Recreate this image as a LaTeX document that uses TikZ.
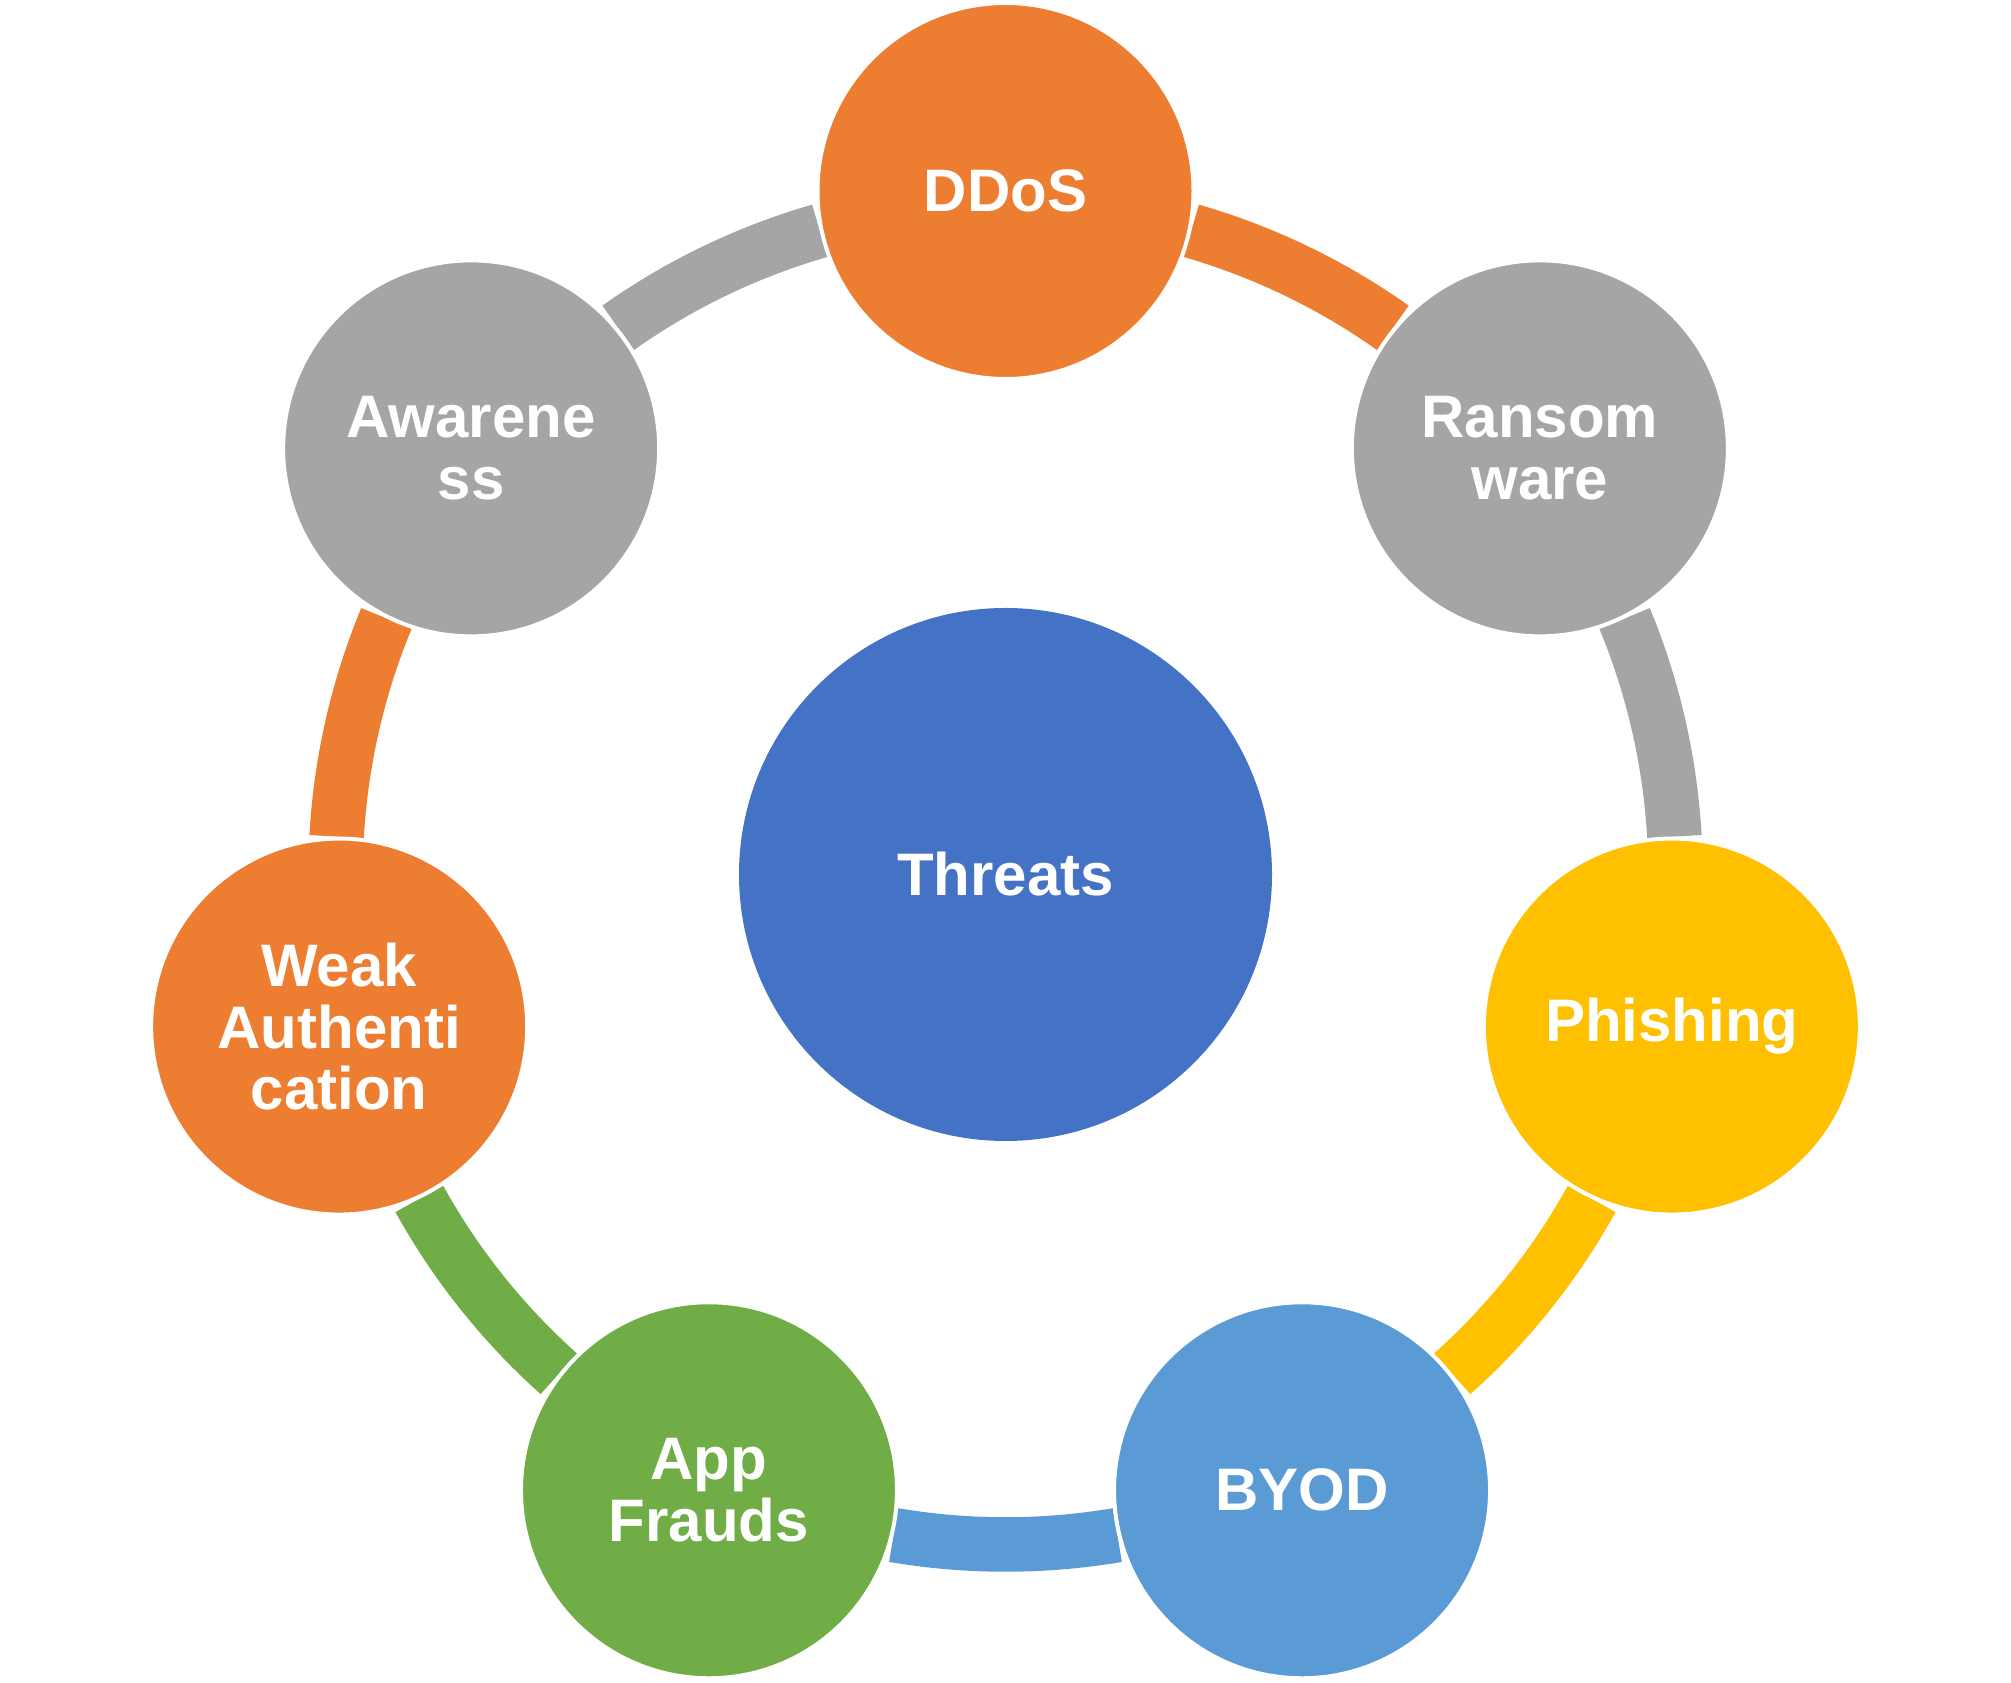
\documentclass[tikz,border=0pt]{standalone}
\usepackage{fontspec}
\setmainfont{Liberation Sans}
\definecolor{corange}{HTML}{ED7D31}
\definecolor{cgray}{HTML}{A5A5A5}
\definecolor{cyellow}{HTML}{FFC000}
\definecolor{clblue}{HTML}{5B9BD5}
\definecolor{cgreen}{HTML}{70AD47}
\definecolor{cdblue}{HTML}{4472C4}
\begin{document}
\begin{tikzpicture}[x=1pt,y=1pt,
  bubble/.style={circle, draw=white, line width=4pt, minimum size=376pt, inner sep=0pt,
    text=white, font=\bfseries\fontsize{60}{61.5}\selectfont, align=center},
  band/.style={line width=54.5pt, line cap=butt}]
\useasboundingbox (0,0) rectangle (2011,1682);
\coordinate (c) at (1005.5,807.5);
% bands
\draw[band, corange] ([shift={(73.9:670pt)}]c) arc[start angle=73.9, end angle=54.67, radius=670pt];
\draw[band, cgray] ([shift={(22.471:670pt)}]c) arc[start angle=22.471, end angle=3.241, radius=670pt];
\draw[band, cyellow] ([shift={(-28.957:670pt)}]c) arc[start angle=-28.957, end angle=-48.187, radius=670pt];
\draw[band, clblue] ([shift={(-80.386:670pt)}]c) arc[start angle=-80.386, end angle=-99.616, radius=670pt];
\draw[band, cgreen] ([shift={(-131.814:670pt)}]c) arc[start angle=-131.814, end angle=-151.044, radius=670pt];
\draw[band, corange] ([shift={(-183.243:670pt)}]c) arc[start angle=-183.243, end angle=-202.473, radius=670pt];
\draw[band, cgray] ([shift={(125.329:670pt)}]c) arc[start angle=125.329, end angle=106.099, radius=670pt];
% center
\node[bubble, draw=none, minimum size=533pt, fill=cdblue] (threats) at (c) {Threats};
% outer circles
\node[bubble, fill=corange] (ddos) at ([shift={(90:683.5pt)}]c) {DDoS};
\node[bubble, fill=cgray] (ransom) at ([shift={(38.571:683.5pt)}]c) {Ransom\\ware};
\node[bubble, fill=cyellow] (phish) at ([shift={(-12.857:683.5pt)}]c) {Phishing};
\node[bubble, fill=clblue] (byod) at ([shift={(-64.286:683.5pt)}]c) {BYOD};
\node[bubble, fill=cgreen] (app) at ([shift={(-115.714:683.5pt)}]c) {App\\Frauds};
\node[bubble, fill=corange] (weak) at ([shift={(-167.143:683.5pt)}]c) {Weak\\Authenti\\cation};
\node[bubble, fill=cgray] (aware) at ([shift={(141.429:683.5pt)}]c) {Awarene\\ss};
\end{tikzpicture}
\end{document}
